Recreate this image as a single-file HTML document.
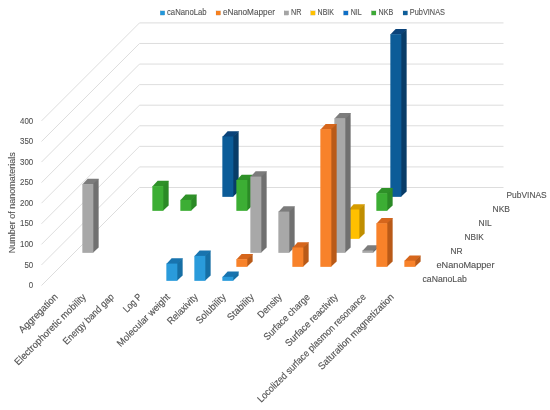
<!DOCTYPE html><html><head><meta charset="utf-8"><title>Chart</title><style>html,body{margin:0;padding:0;background:#fff;}svg{display:block;filter:blur(0.25px);}</style></head><body>
<svg width="550" height="410" viewBox="0 0 550 410">
<rect width="550" height="410" fill="#fff"/>
<g stroke="#D9D9D9" stroke-width="0.9" fill="none">
<path d="M41.5 285.5L139.5 187.5L503.5 187.5"/>
<path d="M41.5 264.93L139.5 166.93L503.5 166.93"/>
<path d="M41.5 244.35L139.5 146.35L503.5 146.35"/>
<path d="M41.5 223.77L139.5 125.77L503.5 125.77"/>
<path d="M41.5 203.2L139.5 105.2L503.5 105.2"/>
<path d="M41.5 182.62L139.5 84.62L503.5 84.62"/>
<path d="M41.5 162.05L139.5 64.05L503.5 64.05"/>
<path d="M41.5 141.47L139.5 43.47L503.5 43.47"/>
<path d="M41.5 120.9L139.5 22.9L503.5 22.9"/>
</g>
<g font-family='"Liberation Sans", "DejaVu Sans", sans-serif' font-size="8.2" fill="#505050" stroke="#5c5c5c" stroke-width="0.1" text-anchor="end">
<text x="33.2" y="288.1" textLength="4.4" lengthAdjust="spacingAndGlyphs">0</text>
<text x="33.2" y="267.52" textLength="8.8" lengthAdjust="spacingAndGlyphs">50</text>
<text x="33.2" y="246.95" textLength="13.2" lengthAdjust="spacingAndGlyphs">100</text>
<text x="33.2" y="226.38" textLength="13.2" lengthAdjust="spacingAndGlyphs">150</text>
<text x="33.2" y="205.8" textLength="13.2" lengthAdjust="spacingAndGlyphs">200</text>
<text x="33.2" y="185.22" textLength="13.2" lengthAdjust="spacingAndGlyphs">250</text>
<text x="33.2" y="164.65" textLength="13.2" lengthAdjust="spacingAndGlyphs">300</text>
<text x="33.2" y="144.07" textLength="13.2" lengthAdjust="spacingAndGlyphs">350</text>
<text x="33.2" y="123.5" textLength="13.2" lengthAdjust="spacingAndGlyphs">400</text>
</g>
<text transform="translate(14.6 202.8) rotate(-90)" font-family='"Liberation Sans", "DejaVu Sans", sans-serif' font-size="9" fill="#505050" stroke="#5c5c5c" stroke-width="0.1" text-anchor="middle" textLength="101" lengthAdjust="spacingAndGlyphs">Number of nanomaterials</text>
<path fill="#0A437A" d="M222.35 136.9L227.65 131.2L238.65 131.2L238.65 131.6L233.35 136.9Z"/><path fill="#083C68" d="M232.95 136.5L238.65 131.2L238.65 191.55L232.95 196.85Z"/><rect fill="#0C5C98" x="222.35" y="136.5" width="11" height="60.35"/>
<path fill="#0A437A" d="M390.35 34.6L395.65 28.9L406.65 28.9L406.65 29.3L401.35 34.6Z"/><path fill="#083C68" d="M400.95 34.2L406.65 28.9L406.65 191.55L400.95 196.85Z"/><rect fill="#0C5C98" x="390.35" y="34.2" width="11" height="162.65"/>
<path fill="#2E9128" d="M152.35 186.5L157.65 180.8L168.65 180.8L168.65 181.2L163.35 186.5Z"/><path fill="#2B8A26" d="M162.95 186.1L168.65 180.8L168.65 205.55L162.95 210.85Z"/><rect fill="#3CAE34" x="152.35" y="186.1" width="11" height="24.75"/>
<path fill="#2E9128" d="M180.35 200.3L185.65 194.6L196.65 194.6L196.65 195L191.35 200.3Z"/><path fill="#2B8A26" d="M190.95 199.9L196.65 194.6L196.65 205.55L190.95 210.85Z"/><rect fill="#3CAE34" x="180.35" y="199.9" width="11" height="10.95"/>
<path fill="#2E9128" d="M236.35 180.4L241.65 174.7L252.65 174.7L252.65 175.1L247.35 180.4Z"/><path fill="#2B8A26" d="M246.95 180L252.65 174.7L252.65 205.55L246.95 210.85Z"/><rect fill="#3CAE34" x="236.35" y="180" width="11" height="30.85"/>
<path fill="#2E9128" d="M376.35 193.7L381.65 188L392.65 188L392.65 188.4L387.35 193.7Z"/><path fill="#2B8A26" d="M386.95 193.3L392.65 188L392.65 205.55L386.95 210.85Z"/><rect fill="#3CAE34" x="376.35" y="193.3" width="11" height="17.55"/>
<path fill="#D69C00" d="M348.35 209.9L353.65 204.2L364.65 204.2L364.65 204.6L359.35 209.9Z"/><path fill="#C08E00" d="M358.95 209.5L364.65 204.2L364.65 233.55L358.95 238.85Z"/><rect fill="#FFC000" x="348.35" y="209.5" width="11" height="29.35"/>
<path fill="#7C7C7C" d="M82.35 184.5L87.65 178.8L98.65 178.8L98.65 179.2L93.35 184.5Z"/><path fill="#707070" d="M92.95 184.1L98.65 178.8L98.65 247.55L92.95 252.85Z"/><rect fill="#A8A8A8" x="82.35" y="184.1" width="11" height="68.75"/>
<path fill="#7C7C7C" d="M250.35 177L255.65 171.3L266.65 171.3L266.65 171.7L261.35 177Z"/><path fill="#707070" d="M260.95 176.6L266.65 171.3L266.65 247.55L260.95 252.85Z"/><rect fill="#A8A8A8" x="250.35" y="176.6" width="11" height="76.25"/>
<path fill="#7C7C7C" d="M278.35 212L283.65 206.3L294.65 206.3L294.65 206.7L289.35 212Z"/><path fill="#707070" d="M288.95 211.6L294.65 206.3L294.65 247.55L288.95 252.85Z"/><rect fill="#A8A8A8" x="278.35" y="211.6" width="11" height="41.25"/>
<path fill="#7C7C7C" d="M334.35 118.8L339.65 113.1L350.65 113.1L350.65 113.5L345.35 118.8Z"/><path fill="#707070" d="M344.95 118.4L350.65 113.1L350.65 247.55L344.95 252.85Z"/><rect fill="#A8A8A8" x="334.35" y="118.4" width="11" height="134.45"/>
<path fill="#7C7C7C" d="M362.35 250.9L367.65 245.2L378.65 245.2L378.65 245.6L373.35 250.9Z"/><path fill="#707070" d="M372.95 250.5L378.65 245.2L378.65 247.55L372.95 252.85Z"/><rect fill="#A8A8A8" x="362.35" y="250.5" width="11" height="2.35"/>
<path fill="#D6661C" d="M236.35 259.6L241.65 253.9L252.65 253.9L252.65 254.3L247.35 259.6Z"/><path fill="#B95A18" d="M246.95 259.2L252.65 253.9L252.65 261.55L246.95 266.85Z"/><rect fill="#F8822A" x="236.35" y="259.2" width="11" height="7.65"/>
<path fill="#D6661C" d="M292.35 247.9L297.65 242.2L308.65 242.2L308.65 242.6L303.35 247.9Z"/><path fill="#B95A18" d="M302.95 247.5L308.65 242.2L308.65 261.55L302.95 266.85Z"/><rect fill="#F8822A" x="292.35" y="247.5" width="11" height="19.35"/>
<path fill="#D6661C" d="M320.35 129.7L325.65 124L336.65 124L336.65 124.4L331.35 129.7Z"/><path fill="#B95A18" d="M330.95 129.3L336.65 124L336.65 261.55L330.95 266.85Z"/><rect fill="#F8822A" x="320.35" y="129.3" width="11" height="137.55"/>
<path fill="#D6661C" d="M376.35 223.7L381.65 218L392.65 218L392.65 218.4L387.35 223.7Z"/><path fill="#B95A18" d="M386.95 223.3L392.65 218L392.65 261.55L386.95 266.85Z"/><rect fill="#F8822A" x="376.35" y="223.3" width="11" height="43.55"/>
<path fill="#D6661C" d="M404.35 261.1L409.65 255.4L420.65 255.4L420.65 255.8L415.35 261.1Z"/><path fill="#B95A18" d="M414.95 260.7L420.65 255.4L420.65 261.55L414.95 266.85Z"/><rect fill="#F8822A" x="404.35" y="260.7" width="11" height="6.15"/>
<path fill="#1874AF" d="M166.35 264L171.65 258.3L182.65 258.3L182.65 258.7L177.35 264Z"/><path fill="#166FA5" d="M176.95 263.6L182.65 258.3L182.65 275.55L176.95 280.85Z"/><rect fill="#2A9BDB" x="166.35" y="263.6" width="11" height="17.25"/>
<path fill="#1874AF" d="M194.35 256.3L199.65 250.6L210.65 250.6L210.65 251L205.35 256.3Z"/><path fill="#166FA5" d="M204.95 255.9L210.65 250.6L210.65 275.55L204.95 280.85Z"/><rect fill="#2A9BDB" x="194.35" y="255.9" width="11" height="24.95"/>
<path fill="#1874AF" d="M222.35 277.2L227.65 271.5L238.65 271.5L238.65 271.9L233.35 277.2Z"/><path fill="#166FA5" d="M232.95 276.8L238.65 271.5L238.65 275.55L232.95 280.85Z"/><rect fill="#2A9BDB" x="222.35" y="276.8" width="11" height="4.05"/>
<g font-family='"Liberation Sans", "DejaVu Sans", sans-serif' font-size="9.8" fill="#505050" stroke="#5c5c5c" stroke-width="0.15" text-anchor="end">
<text transform="translate(58.5 297.6) rotate(-45)" textLength="50.8" lengthAdjust="spacingAndGlyphs">Aggregation</text>
<text transform="translate(86.5 297.6) rotate(-45)" textLength="96.5" lengthAdjust="spacingAndGlyphs">Electrophoretic mobility</text>
<text transform="translate(114.5 297.6) rotate(-45)" textLength="67.4" lengthAdjust="spacingAndGlyphs">Energy band gap</text>
<text transform="translate(142.5 297.6) rotate(-45)" textLength="21.9" lengthAdjust="spacingAndGlyphs">Log P</text>
<text transform="translate(170.5 297.6) rotate(-45)" textLength="70.2" lengthAdjust="spacingAndGlyphs">Molecular weight</text>
<text transform="translate(198.5 297.6) rotate(-45)" textLength="38.9" lengthAdjust="spacingAndGlyphs">Relaxivity</text>
<text transform="translate(226.5 297.6) rotate(-45)" textLength="38" lengthAdjust="spacingAndGlyphs">Solubility</text>
<text transform="translate(254.5 297.6) rotate(-45)" textLength="33.3" lengthAdjust="spacingAndGlyphs">Stability</text>
<text transform="translate(282.5 297.6) rotate(-45)" textLength="29.9" lengthAdjust="spacingAndGlyphs">Density</text>
<text transform="translate(310.5 297.6) rotate(-45)" textLength="60.9" lengthAdjust="spacingAndGlyphs">Surface charge</text>
<text transform="translate(338.5 297.6) rotate(-45)" textLength="70" lengthAdjust="spacingAndGlyphs">Surface reactivity</text>
<text transform="translate(366.5 297.6) rotate(-45)" textLength="149" lengthAdjust="spacingAndGlyphs">Locolized surface plasmon resonance</text>
<text transform="translate(394.5 297.6) rotate(-45)" textLength="102.6" lengthAdjust="spacingAndGlyphs">Saturation magnetization</text>
</g>
<g font-family='"Liberation Sans", "DejaVu Sans", sans-serif' font-size="8.9" fill="#505050" stroke="#5c5c5c" stroke-width="0.12">
<text x="422.5" y="282.2" textLength="44.3" lengthAdjust="spacingAndGlyphs">caNanoLab</text>
<text x="436.5" y="268.1" textLength="58" lengthAdjust="spacingAndGlyphs">eNanoMapper</text>
<text x="450.5" y="254" textLength="12.1" lengthAdjust="spacingAndGlyphs">NR</text>
<text x="464.5" y="239.9" textLength="19.3" lengthAdjust="spacingAndGlyphs">NBIK</text>
<text x="478.5" y="225.8" textLength="13.2" lengthAdjust="spacingAndGlyphs">NIL</text>
<text x="492.5" y="211.7" textLength="17.5" lengthAdjust="spacingAndGlyphs">NKB</text>
<text x="506.5" y="197.6" textLength="40.2" lengthAdjust="spacingAndGlyphs">PubVINAS</text>
</g>
<g font-family='"Liberation Sans", "DejaVu Sans", sans-serif' font-size="8.4" fill="#505050" stroke="#5c5c5c" stroke-width="0.1">
<rect x="160.2" y="10.9" width="4.6" height="4.2" fill="#2397DA"/>
<text x="167" y="14.8" textLength="39.6" lengthAdjust="spacingAndGlyphs">caNanoLab</text>
<rect x="216" y="10.9" width="4.6" height="4.2" fill="#F7801F"/>
<text x="222.9" y="14.8" textLength="52.1" lengthAdjust="spacingAndGlyphs">eNanoMapper</text>
<rect x="284.1" y="10.9" width="4.6" height="4.2" fill="#A5A5A5"/>
<text x="291.1" y="14.8" textLength="10.5" lengthAdjust="spacingAndGlyphs">NR</text>
<rect x="310.6" y="10.9" width="4.6" height="4.2" fill="#FFC000"/>
<text x="317.6" y="14.8" textLength="16.4" lengthAdjust="spacingAndGlyphs">NBIK</text>
<rect x="343.5" y="10.9" width="4.6" height="4.2" fill="#0F6FC6"/>
<text x="350.7" y="14.8" textLength="11.1" lengthAdjust="spacingAndGlyphs">NIL</text>
<rect x="371.4" y="10.9" width="4.6" height="4.2" fill="#3DAA35"/>
<text x="378.5" y="14.8" textLength="14.7" lengthAdjust="spacingAndGlyphs">NKB</text>
<rect x="403" y="10.9" width="4.6" height="4.2" fill="#0E5E9A"/>
<text x="409.8" y="14.8" textLength="35.2" lengthAdjust="spacingAndGlyphs">PubVINAS</text>
</g>
</svg></body></html>
